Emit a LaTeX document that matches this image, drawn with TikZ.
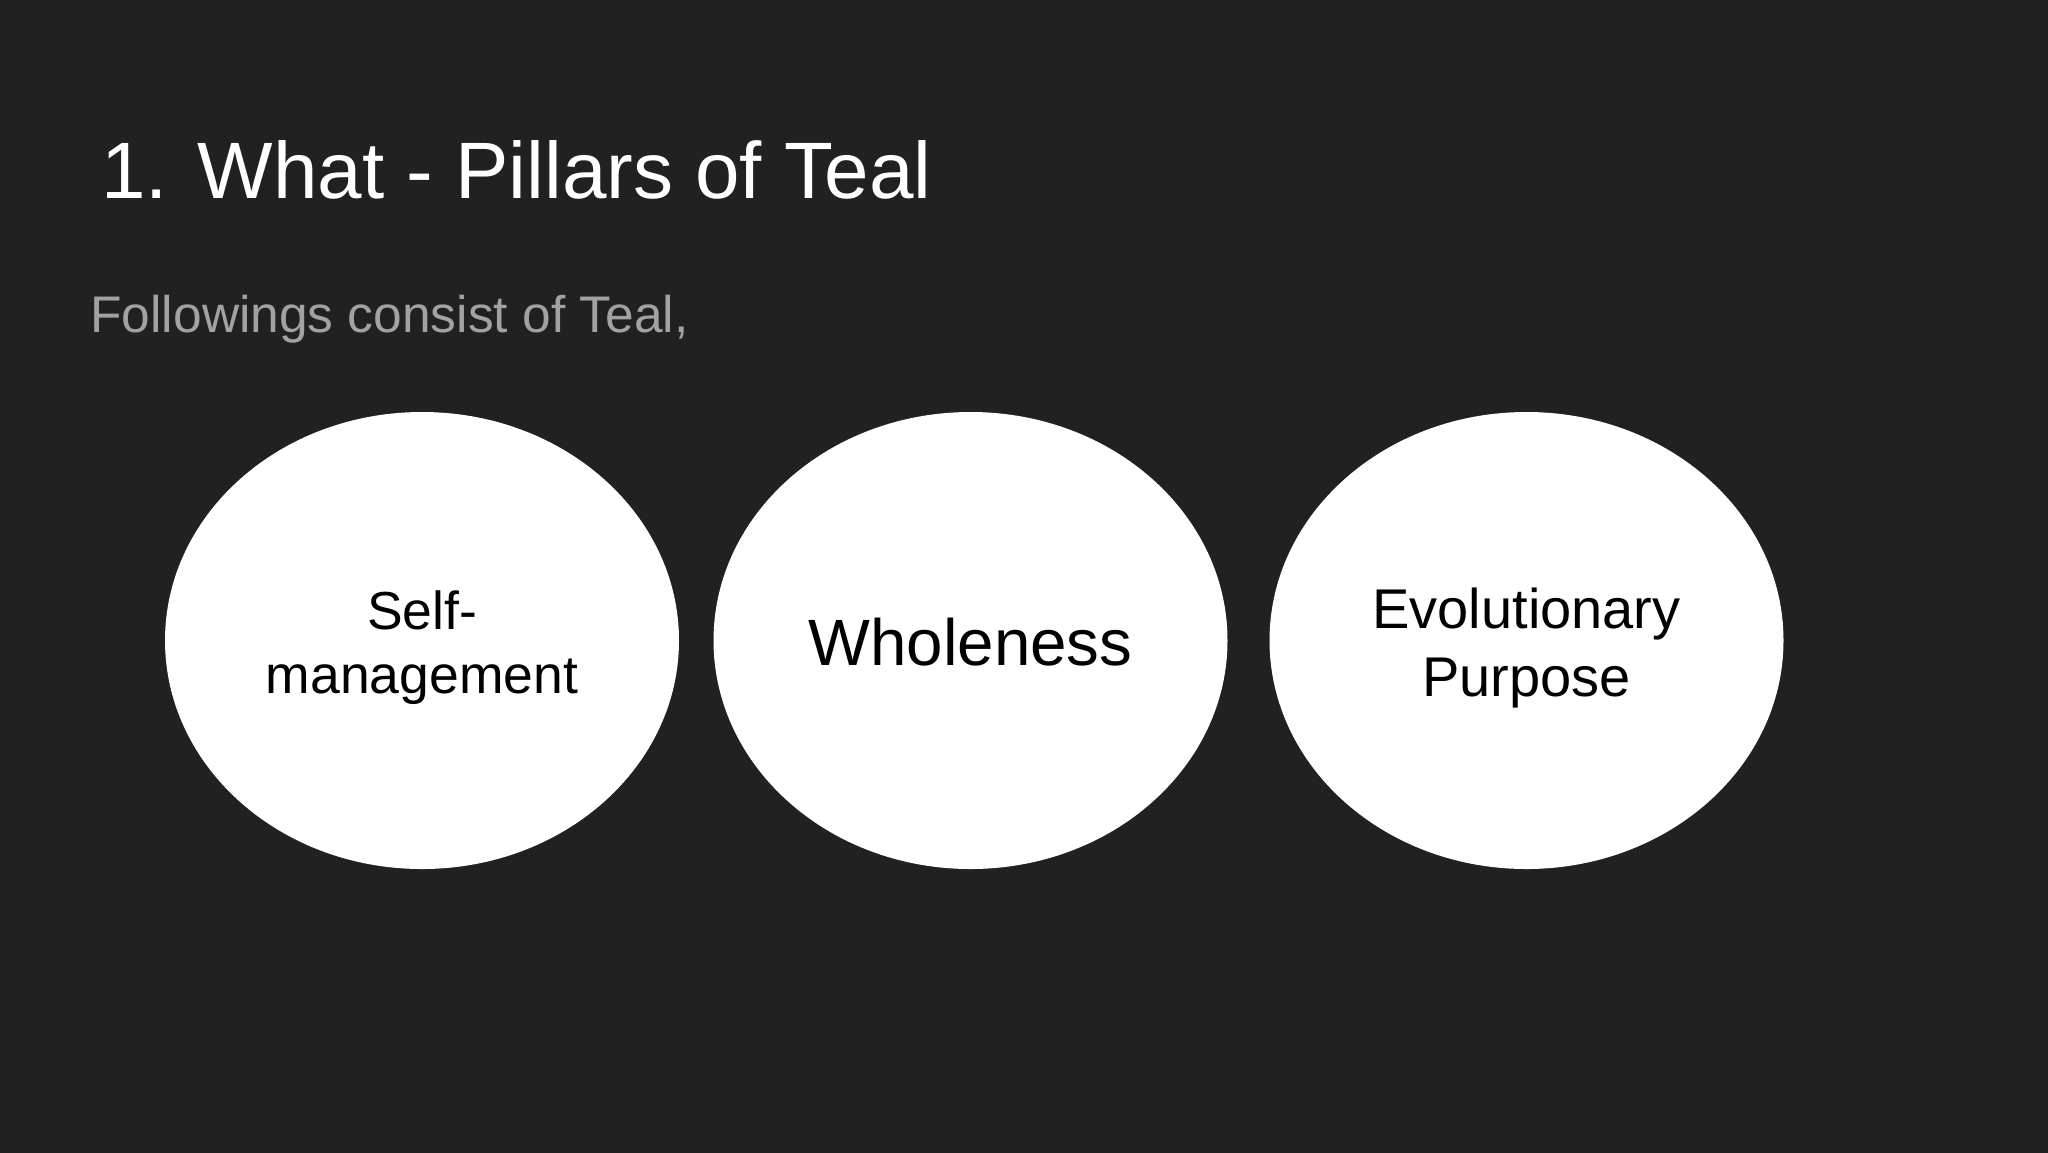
\documentclass[tikz,border=0pt]{standalone}
\usepackage{fontspec}
\setmainfont{Liberation Sans}
\usetikzlibrary{shapes.geometric}
\definecolor{bgdark}{HTML}{212121}
\definecolor{subgray}{HTML}{A2A2A2}
\begin{document}
\begin{tikzpicture}[x=0.5pt,y=-0.5pt,
  pillar/.style={ellipse, fill=white, draw=none, minimum width=257pt, minimum height=228.5pt, inner sep=0pt},
  ptext/.style={text=black, inner sep=0pt, anchor=base},
  titletext/.style={text=white, inner sep=0pt, anchor=base west, font=\fontsize{40pt}{48pt}\selectfont},
  subtext/.style={text=subgray, inner sep=0pt, anchor=base west, font=\fontsize{25.75pt}{31pt}\selectfont}]
\useasboundingbox (0,0) rectangle (2048,1152);
\fill[bgdark] (-20,-20) rectangle (2068,1172);
\node[titletext] (title) at (101,198) {1. What - Pillars of Teal};
\node[subtext] (sub) at (90,332) {Followings consist of Teal,};
\node[pillar] (p1) at (422,640.5) {};
\node[pillar] (p2) at (970.5,640.5) {};
\node[pillar] (p3) at (1526.5,640.5) {};
\node[ptext, font=\fontsize{26.75pt}{32pt}\selectfont] (t1a) at (422,629) {Self-};
\node[ptext, font=\fontsize{26.75pt}{32pt}\selectfont] (t1b) at (422,693) {management};
\node[ptext, font=\fontsize{32.75pt}{39pt}\selectfont] (t2) at (970.5,665) {Wholeness};
\node[ptext, font=\fontsize{28pt}{34pt}\selectfont] (t3a) at (1526.5,628) {Evolutionary};
\node[ptext, font=\fontsize{28pt}{34pt}\selectfont] (t3b) at (1526.5,696) {Purpose};
\end{tikzpicture}
\end{document}
